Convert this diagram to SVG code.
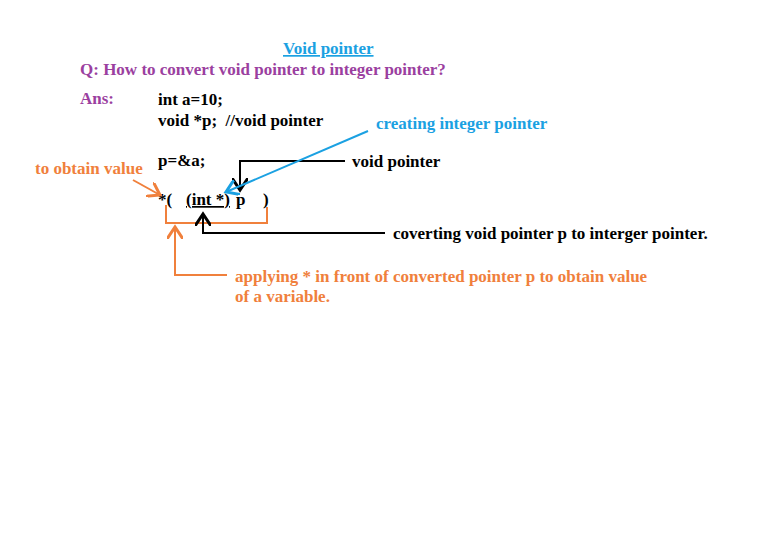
<svg xmlns="http://www.w3.org/2000/svg" width="768" height="543" viewBox="0 0 768 543">
<style>
text{font-family:"Liberation Serif",serif;font-weight:bold;font-size:17px}
.k{fill:#000}.o{fill:#f0803c}.b{fill:#1ba1e2}.p{fill:#9b3fa0}
.lk{stroke:#000;stroke-width:2;fill:none}.lo{stroke:#f0803c;stroke-width:2;fill:none}.lb{stroke:#1ba1e2;stroke-width:2;fill:none}
</style>
<defs>
<marker id="ak" markerWidth="8" markerHeight="8" refX="6" refY="4" orient="auto"><path d="M0,0L6,4L0,8" fill="none" stroke="#000" stroke-width="1.5"/></marker>
<marker id="ao" markerWidth="8" markerHeight="8" refX="6" refY="4" orient="auto"><path d="M0,0L6,4L0,8" fill="none" stroke="#f0803c" stroke-width="1.5"/></marker>
<marker id="ab" markerWidth="8" markerHeight="8" refX="6" refY="4" orient="auto"><path d="M0,0L6,4L0,8" fill="none" stroke="#1ba1e2" stroke-width="1.5"/></marker>
</defs>
<g id="title"><text x="283" y="54" class="b" style="text-decoration:underline">Void pointer</text></g>
<g id="question"><text x="80" y="75" class="p">Q: How to convert void pointer to integer pointer?</text></g>
<g id="ans"><text x="80" y="104" class="p">Ans:</text></g>
<g id="code" class="k">
<text x="158" y="105">int a=10;</text>
<text x="158" y="126" xml:space="preserve">void *p;  //void pointer</text>
<text x="158" y="166">p=&amp;a;</text>
<text x="158" y="205">*(</text>
<text x="186" y="205" style="text-decoration:underline">(int *)</text>
<text x="236" y="205">p</text>
<text x="263" y="205">)</text>
</g>
<g id="labels">
<text x="376" y="129" class="b">creating integer pointer</text>
<text x="352" y="167" class="k">void pointer</text>
<text x="35" y="174" class="o">to obtain value</text>
<text x="393" y="239" class="k">coverting void pointer p to interger pointer.</text>
<text x="235" y="282" class="o">applying * in front of converted pointer p to obtain value</text>
<text x="235" y="302" class="o">of a variable.</text>
</g>
<g id="connectors">
<path class="lk" d="M345,161H240V190" marker-end="url(#ak)"/>
<path class="lb" d="M368,131L226,192" marker-end="url(#ab)"/>
<path class="lo" d="M133,180L160,195" marker-end="url(#ao)"/>
<path class="lo" d="M166,205V223H267V207"/>
<path class="lo" d="M227,275H175V227" marker-end="url(#ao)"/>
<path class="lk" d="M385,233H203V214" marker-end="url(#ak)"/>
</g>
</svg>
